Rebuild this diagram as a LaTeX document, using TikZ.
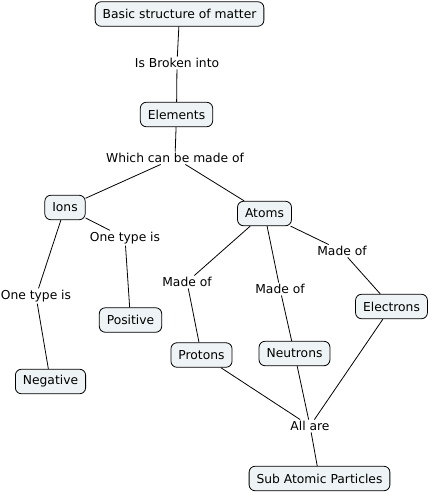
\documentclass[tikz,border=0pt]{standalone}
\usepackage{fontspec}
\setmainfont{DejaVu Sans}
\definecolor{boxfill}{RGB}{238,243,245}
\tikzset{
  concept/.style={draw=black, line width=0.8pt, fill=boxfill, rounded corners=6pt,
    inner xsep=7.5pt, minimum height=24.5pt, font=\fontsize{12.3}{14}\selectfont},
  linklabel/.style={fill=white, inner sep=1.5pt, font=\fontsize{12.3}{14}\selectfont},
  conn/.style={draw=black, line width=0.8pt}
}
\begin{document}
\begin{tikzpicture}[x=1pt,y=-1pt]
\useasboundingbox (0,0) rectangle (430,493);
% concepts
\node[concept] (basic) at (179.5,14) {Basic structure of matter};
\node[concept] (elem) at (176.5,114.5) {Elements};
\node[concept] (ions) at (65,207.5) {Ions};
\node[concept] (atoms) at (264.5,213.5) {Atoms};
\node[concept] (pos) at (130.5,320) {Positive};
\node[concept] (neg) at (50.5,381.5) {Negative};
\node[concept] (elec) at (391.5,306.5) {Electrons};
\node[concept] (prot) at (201.5,355) {Protons};
\node[concept] (neut) at (294.5,353.5) {Neutrons};
\node[concept] (sub) at (319.5,478.5) {Sub Atomic Particles};
% link labels
\node[linklabel] (l1) at (177,63) {Is Broken into};
\node[linklabel] (l2) at (175,158) {Which can be made of};
\node[linklabel] (l3) at (125,238) {One type is};
\node[linklabel] (l4) at (36,296) {One type is};
\node[linklabel] (l5) at (342,251) {Made of};
\node[linklabel] (l6) at (187,282) {Made of};
\node[linklabel] (l7) at (280,289) {Made of};
\node[linklabel] (l8) at (310,426) {All are};
% connectors
\draw[conn] (basic) -- (l1);
\draw[conn] (l1) -- (elem);
\draw[conn] (elem) -- (l2);
\draw[conn] (l2) -- (ions);
\draw[conn] (l2) -- (atoms);
\draw[conn] (ions) -- (l3);
\draw[conn] (l3) -- (pos);
\draw[conn] (ions) -- (l4);
\draw[conn] (l4) -- (neg);
\draw[conn] (atoms) -- (l5);
\draw[conn] (l5) -- (elec);
\draw[conn] (atoms) -- (l6);
\draw[conn] (l6) -- (prot);
\draw[conn] (atoms) -- (l7);
\draw[conn] (l7) -- (neut);
\draw[conn] (prot) -- (l8);
\draw[conn] (neut) -- (l8);
\draw[conn] (elec) -- (l8);
\draw[conn] (l8) -- (sub);
\end{tikzpicture}
\end{document}
